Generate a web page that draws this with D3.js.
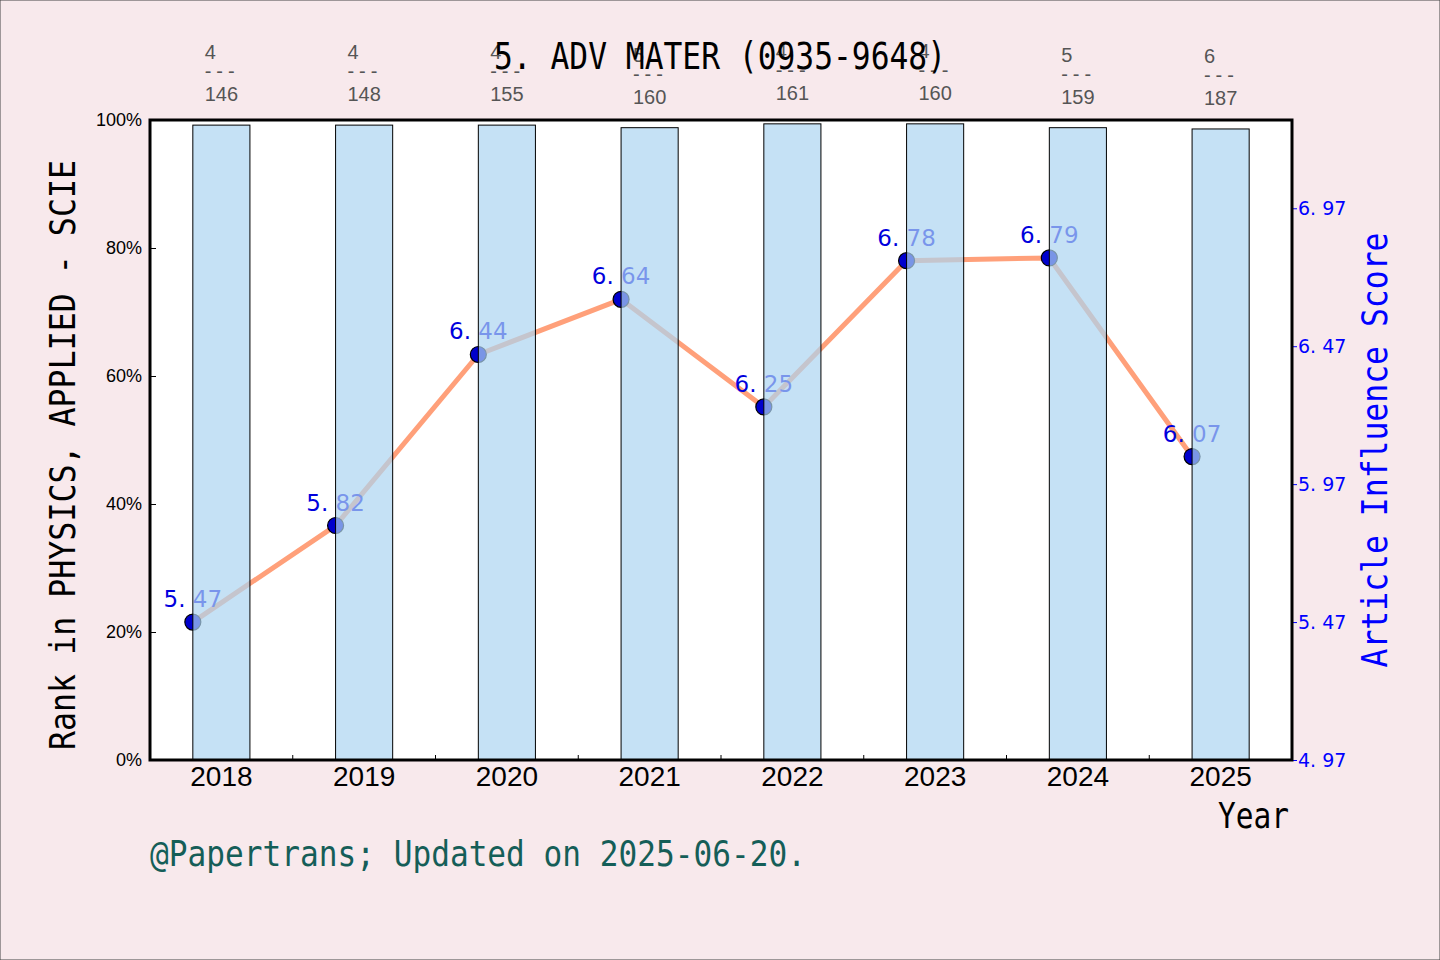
<!DOCTYPE html>
<html>
<head>
<meta charset="utf-8">
<script src="https://cdn.jsdelivr.net/npm/d3@7"></script>
<style>
  body { margin: 0; background: #f8e9ec; }
  svg { display: block; }
</style>
</head>
<body>
<svg id="chart" width="1440" height="960"></svg>
<script>
// Data
var years = ["2018", "2019", "2020", "2021", "2022", "2023", "2024", "2025"];
var rankPct = [99.2, 99.2, 99.2, 98.8, 99.4, 99.4, 98.8, 98.6];   // bar heights (%)
var ranks = [4, 4, 4, 5, 4, 4, 5, 6];
var totals = [146, 148, 155, 160, 161, 160, 159, 187];
var ais = [5.47, 5.82, 6.44, 6.64, 6.25, 6.78, 6.79, 6.07];
var pctTicks = [0, 20, 40, 60, 80, 100];

var svg = d3.select("#chart");
var plotL = 150, plotR = 1292, plotT = 120, plotB = 760;

// background
svg.append("rect").attr("width", 1440).attr("height", 960)
    .attr("fill", "#f8e9ec").attr("stroke", "#444").attr("stroke-width", 1);
svg.append("rect").attr("x", plotL).attr("y", plotT)
    .attr("width", plotR - plotL).attr("height", plotB - plotT).attr("fill", "#fff");

// scales
var x = d3.scaleBand().domain(years).range([plotL, plotR])
    .paddingInner(0.6).paddingOuter(0.3);
var yPct = d3.scaleLinear().domain([0, 100]).range([plotB, plotT]);
var aisMin = d3.min(ais) - 0.5, aisMax = d3.max(ais) + 0.5;
var yAis = d3.scaleLinear().domain([aisMin, aisMax]).range([plotB, plotT]);
var aisTicks = d3.range(0, 5).map(function(i) { return aisMin + i * 0.5; });

function fmtDot(v) { return d3.format(".2f")(v).replace(".", ". "); }

// left axis
var leftAxis = svg.append("g").attr("transform", "translate(" + plotL + ",0)")
    .call(d3.axisLeft(yPct).tickValues(pctTicks).tickSize(-6).tickPadding(8)
        .tickFormat(function(d) { return d + "%"; }));
leftAxis.select(".domain").remove();
leftAxis.selectAll("text").style("font-family", "'Liberation Sans', Arial, sans-serif")
    .style("font-size", "18px").attr("fill", "#000");

// right axis
var rightAxis = svg.append("g").attr("transform", "translate(" + plotR + ",0)")
    .call(d3.axisRight(yAis).tickValues(aisTicks).tickSize(5).tickPadding(1)
        .tickFormat(fmtDot));
rightAxis.select(".domain").remove();
rightAxis.selectAll("line").attr("stroke", "#0000ff");
rightAxis.selectAll("text").style("font-family", "'DejaVu Sans', sans-serif")
    .style("font-size", "19px").attr("fill", "#0000ff");

// bottom axis
var xAxis = svg.append("g").attr("transform", "translate(0," + plotB + ")")
    .call(d3.axisBottom(x).tickSize(0).tickPadding(6));
xAxis.select(".domain").remove();
xAxis.selectAll("text").style("font-family", "'Liberation Sans', Arial, sans-serif")
    .style("font-size", "28px").attr("fill", "#000");
// small ticks between bars
svg.append("g").selectAll("line").data(years.slice(1)).enter().append("line")
    .attr("x1", function(d) { return x(d) - x.step() * x.paddingInner() / 2; })
    .attr("x2", function(d) { return x(d) - x.step() * x.paddingInner() / 2; })
    .attr("y1", plotB).attr("y2", plotB - 5)
    .attr("stroke", "#000").attr("stroke-width", 1);

// line
var line = d3.line()
    .x(function(d, i) { return x(years[i]); })
    .y(function(d) { return yAis(d); });
svg.append("path").datum(ais)
    .attr("d", line).attr("fill", "none")
    .attr("stroke", "#ffa07a").attr("stroke-width", 5);

svg.append("g").selectAll("circle").data(ais).enter().append("circle")
    .attr("cx", function(d, i) { return x(years[i]); })
    .attr("cy", function(d) { return yAis(d); })
    .attr("r", 8).attr("fill", "#0000cd")
    .attr("stroke", "#000").attr("stroke-width", 1.2);

svg.append("g").selectAll("text").data(ais).enter().append("text")
    .attr("x", function(d, i) { return x(years[i]); })
    .attr("y", function(d) { return yAis(d) - 15; })
    .attr("text-anchor", "middle")
    .style("font-family", "'DejaVu Sans', sans-serif").style("font-size", "23px")
    .attr("fill", "#0000dd")
    .text(fmtDot);

// bars drawn on top, semi-transparent
svg.append("g").selectAll("rect").data(rankPct).enter().append("rect")
    .attr("x", function(d, i) { return x(years[i]); })
    .attr("y", function(d) { return yPct(d); })
    .attr("width", x.bandwidth())
    .attr("height", function(d) { return plotB - yPct(d); })
    .attr("fill", "rgba(172,212,241,0.7)")
    .attr("stroke", "#000").attr("stroke-width", 1);

// frame
svg.append("rect").attr("x", plotL).attr("y", plotT)
    .attr("width", plotR - plotL).attr("height", plotB - plotT)
    .attr("fill", "none").attr("stroke", "#000").attr("stroke-width", 3);

// rank fractions above bars
years.forEach(function(yr, i) {
    var g = svg.append("g").style("font-family", "'Liberation Sans', Arial, sans-serif")
        .style("font-size", "20px").attr("fill", "#555");
    var by = yPct(rankPct[i]);
    var t1 = g.append("text").attr("y", by - 66).text(ranks[i]);
    var t2 = g.append("text").attr("y", by - 47).attr("letter-spacing", "5px").text("---");
    var t3 = g.append("text").attr("y", by - 24).text(totals[i]);
    var w = Math.max(t1.node().getComputedTextLength(), t3.node().getComputedTextLength());
    var x0 = x(yr) + x.bandwidth() / 2 - w / 2;
    g.selectAll("text").attr("x", x0);
});

// title
svg.append("text").attr("x", 720).attr("y", 69).attr("text-anchor", "middle")
    .style("font-family", "'DejaVu Sans Mono', monospace").style("font-size", "37px")
    .attr("textLength", 452).attr("lengthAdjust", "spacingAndGlyphs")
    .attr("fill", "#000").text("5. ADV MATER (0935-9648)");

// axis titles
svg.append("text").attr("transform", "translate(75,455) rotate(-90)")
    .attr("text-anchor", "middle")
    .style("font-family", "'DejaVu Sans Mono', monospace").style("font-size", "35px")
    .attr("textLength", 590).attr("lengthAdjust", "spacingAndGlyphs")
    .attr("fill", "#000").text("Rank in PHYSICS, APPLIED - SCIE");

svg.append("text").attr("transform", "translate(1387,450) rotate(-90)")
    .attr("text-anchor", "middle")
    .style("font-family", "'DejaVu Sans Mono', monospace").style("font-size", "35px")
    .attr("textLength", 435).attr("lengthAdjust", "spacingAndGlyphs")
    .attr("fill", "#0000ff").text("Article Influence Score");

svg.append("text").attr("x", 1289).attr("y", 828).attr("text-anchor", "end")
    .style("font-family", "'DejaVu Sans Mono', monospace").style("font-size", "35px")
    .attr("textLength", 71).attr("lengthAdjust", "spacingAndGlyphs")
    .attr("fill", "#000").text("Year");

// footer
svg.append("text").attr("x", 150).attr("y", 866)
    .style("font-family", "'DejaVu Sans Mono', monospace").style("font-size", "35px")
    .attr("textLength", 656).attr("lengthAdjust", "spacingAndGlyphs")
    .attr("fill", "#155e58").text("@Papertrans; Updated on 2025-06-20.");
</script>
</body>
</html>
